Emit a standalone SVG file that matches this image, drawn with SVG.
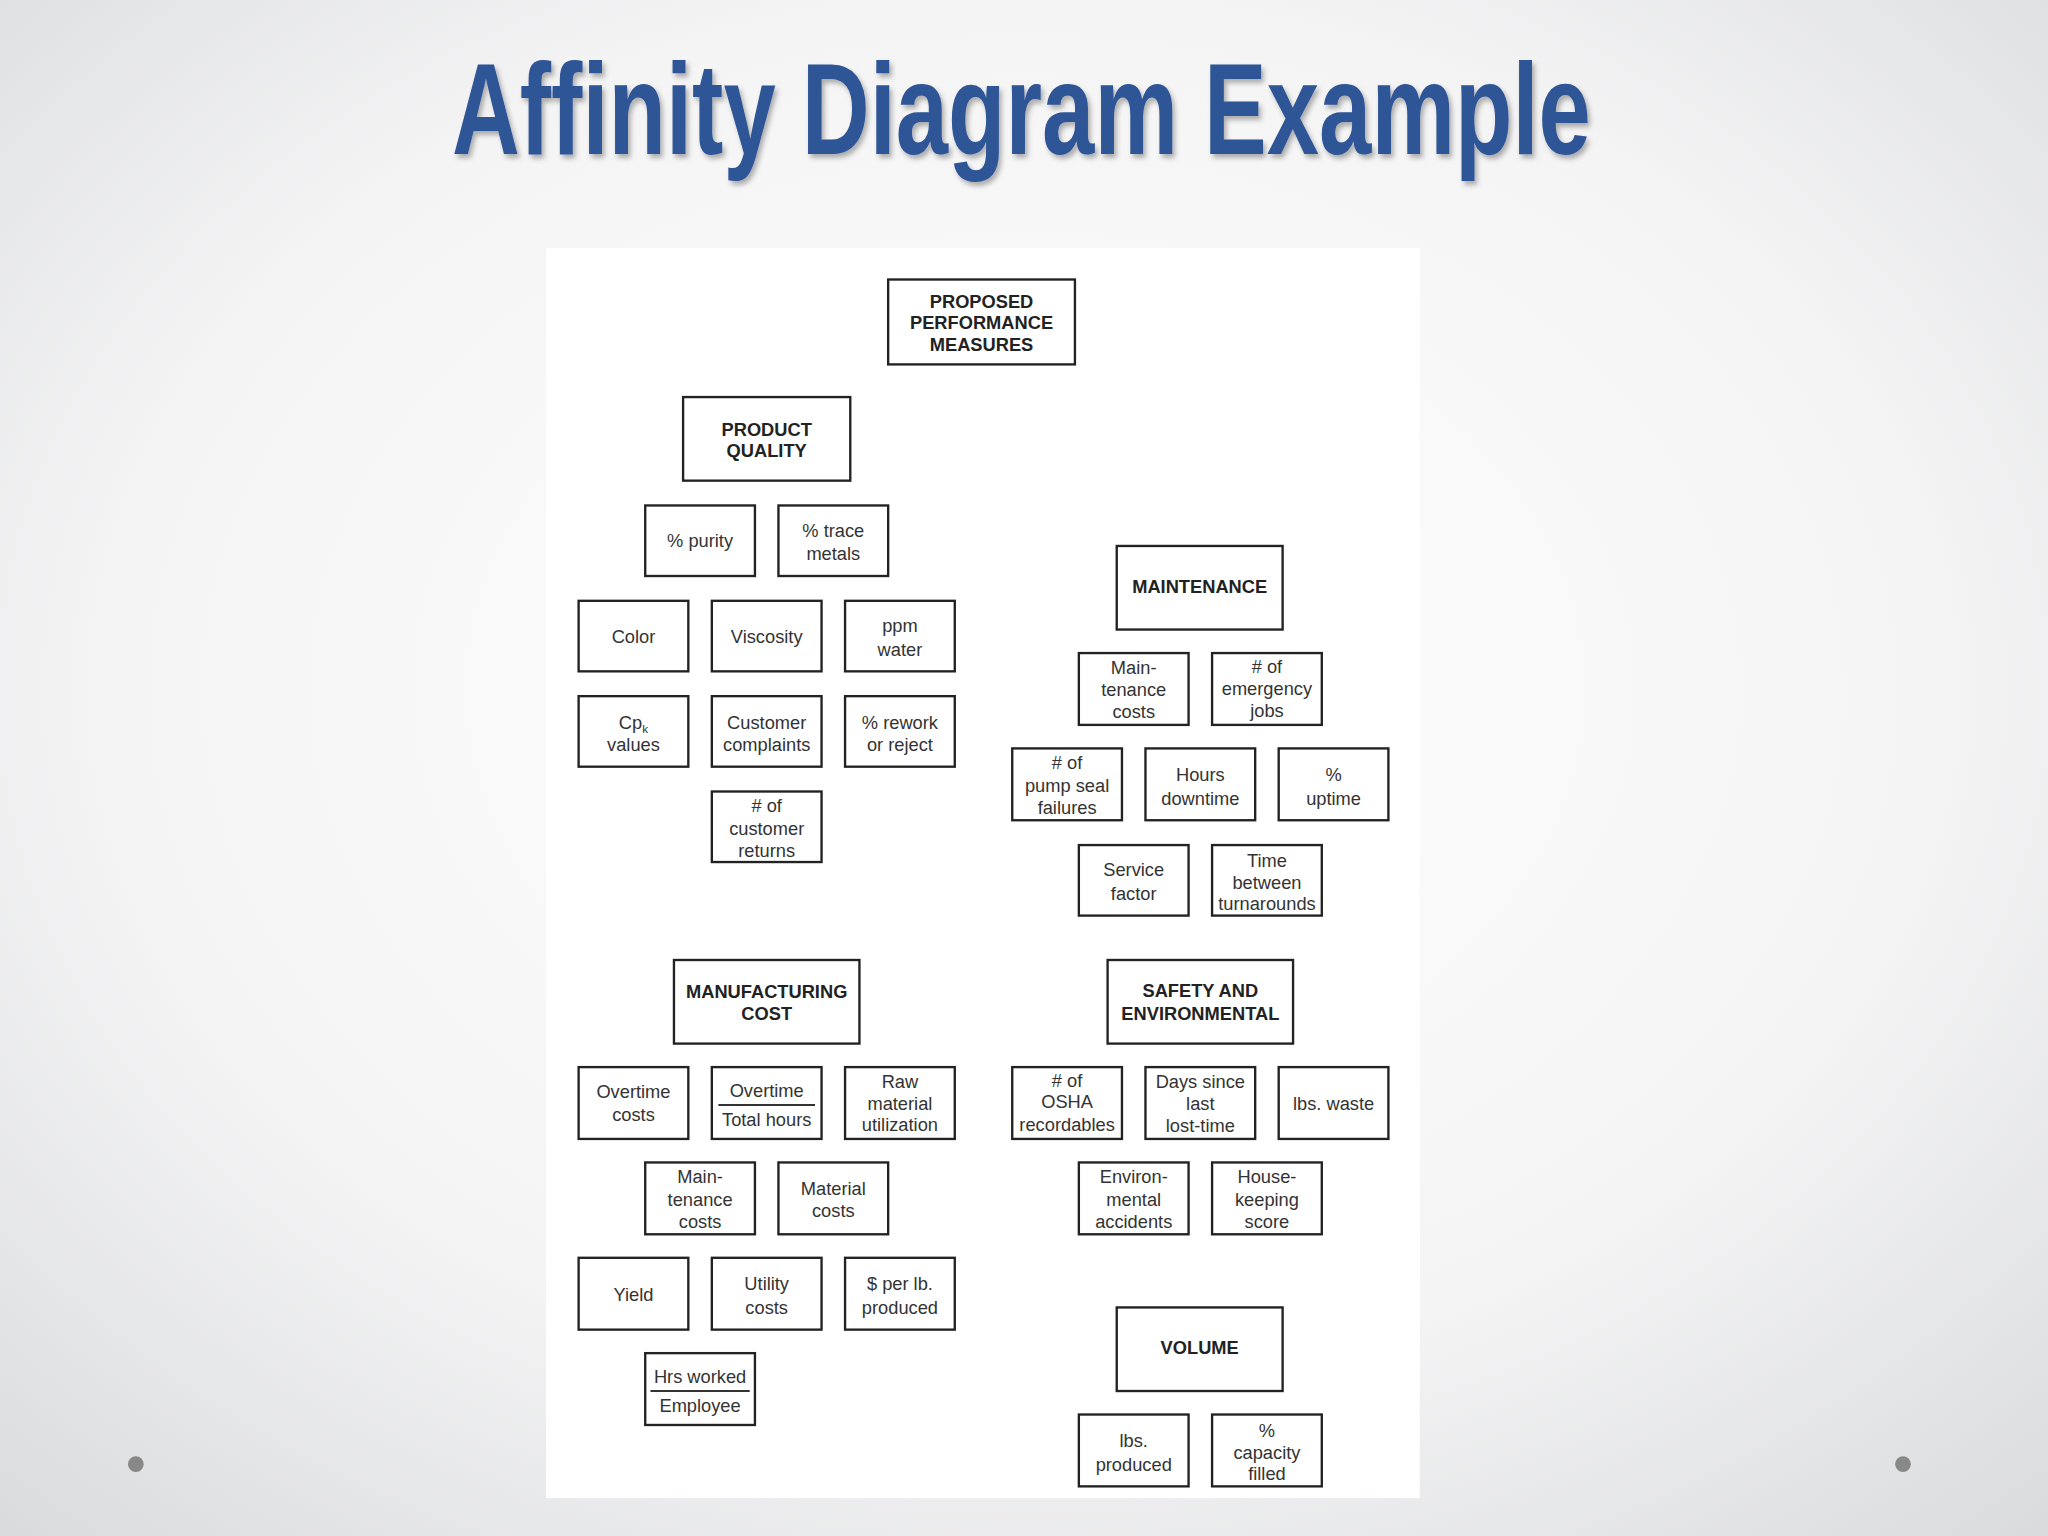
<svg xmlns="http://www.w3.org/2000/svg" width="2048" height="1536" viewBox="0 0 2048 1536">
<defs>
<radialGradient id="bg" cx="50%" cy="45%" r="75%">
<stop offset="0" stop-color="#ffffff"/><stop offset="0.6" stop-color="#f4f4f5"/><stop offset="1" stop-color="#d9dadc"/>
</radialGradient>
<filter id="sh"><feDropShadow dx="2" dy="3" stdDeviation="2" flood-color="#000" flood-opacity="0.3"/></filter>
</defs>
<style>
rect.b{fill:#fff;stroke:#222;stroke-width:1.8}
text{font-family:"Liberation Sans Narrow","Liberation Sans",Arial,sans-serif;fill:#333;text-anchor:middle;font-size:14px}
text.h{font-weight:bold;fill:#222}
</style>
<rect width="2048" height="1536" fill="url(#bg)"/>
<g transform="scale(1.30612)">
<text x="782" y="118" filter="url(#sh)" style="font-family:'Liberation Sans Narrow','Liberation Sans',sans-serif;font-weight:bold;font-size:100px;fill:#2f5496" textLength="872" lengthAdjust="spacingAndGlyphs">Affinity  Diagram  Example</text>
<rect x="418" y="190" width="669" height="957" fill="#fff"/>
<circle cx="104" cy="1121" r="6" fill="#888"/>
<circle cx="1457" cy="1121" r="6" fill="#888"/>
<g id="connectors"/>
<g id="proposed"><rect class="b" x="680" y="214" width="143" height="65"/><text class="h" x="751.5" y="236">PROPOSED</text><text class="h" x="751.5" y="252">PERFORMANCE</text><text class="h" x="751.5" y="269">MEASURES</text></g>
<g id="quality"><rect class="b" x="523" y="304" width="128" height="64"/><text class="h" x="587" y="334">PRODUCT</text><text class="h" x="587" y="350">QUALITY</text></g>
<g id="purity"><rect class="b" x="494" y="387" width="84" height="54"/><text x="536" y="419">% purity</text></g>
<g id="trace"><rect class="b" x="596" y="387" width="84" height="54"/><text x="638" y="411">% trace</text><text x="638" y="429">metals</text></g>
<g id="color"><rect class="b" x="443" y="460" width="84" height="54"/><text x="485" y="492">Color</text></g>
<g id="visc"><rect class="b" x="545" y="460" width="84" height="54"/><text x="587" y="492">Viscosity</text></g>
<g id="ppm"><rect class="b" x="647" y="460" width="84" height="54"/><text x="689" y="484">ppm</text><text x="689" y="502">water</text></g>
<g id="cpk"><rect class="b" x="443" y="533" width="84" height="54"/><text x="485" y="558">Cp<tspan font-size="9" dy="3">k</tspan></text><text x="485" y="575">values</text></g>
<g id="compl"><rect class="b" x="545" y="533" width="84" height="54"/><text x="587" y="558">Customer</text><text x="587" y="575">complaints</text></g>
<g id="rework"><rect class="b" x="647" y="533" width="84" height="54"/><text x="689" y="558">% rework</text><text x="689" y="575">or reject</text></g>
<g id="returns"><rect class="b" x="545" y="606" width="84" height="54"/><text x="587" y="622">#  of</text><text x="587" y="639">customer</text><text x="587" y="656">returns</text></g>
<g id="maint"><rect class="b" x="855" y="418" width="127" height="64"/><text class="h" x="918.5" y="454">MAINTENANCE</text></g>
<g id="mcost"><rect class="b" x="826" y="500" width="84" height="55"/><text x="868" y="516">Main-</text><text x="868" y="533">tenance</text><text x="868" y="550">costs</text></g>
<g id="emerg"><rect class="b" x="928" y="500" width="84" height="55"/><text x="970" y="515">#  of</text><text x="970" y="532">emergency</text><text x="970" y="549">jobs</text></g>
<g id="pump"><rect class="b" x="775" y="573" width="84" height="55"/><text x="817" y="589">#  of</text><text x="817" y="606">pump seal</text><text x="817" y="623">failures</text></g>
<g id="hours"><rect class="b" x="877" y="573" width="84" height="55"/><text x="919" y="598">Hours</text><text x="919" y="616">downtime</text></g>
<g id="uptime"><rect class="b" x="979" y="573" width="84" height="55"/><text x="1021" y="598">%</text><text x="1021" y="616">uptime</text></g>
<g id="service"><rect class="b" x="826" y="647" width="84" height="54"/><text x="868" y="671">Service</text><text x="868" y="689">factor</text></g>
<g id="turn"><rect class="b" x="928" y="647" width="84" height="54"/><text x="970" y="664">Time</text><text x="970" y="681">between</text><text x="970" y="697">turnarounds</text></g>
<g id="manuf"><rect class="b" x="516" y="735" width="142" height="64"/><text class="h" x="587" y="764">MANUFACTURING</text><text class="h" x="587" y="781">COST</text></g>
<g id="ot"><rect class="b" x="443" y="817" width="84" height="55"/><text x="485" y="841">Overtime</text><text x="485" y="858">costs</text></g>
<g id="otr"><rect class="b" x="545" y="817" width="84" height="55"/><text x="587" y="840">Overtime</text><line x1="550" y1="846" x2="624" y2="846" stroke="#333" stroke-width="1.5"/><text x="587" y="862">Total hours</text></g>
<g id="raw"><rect class="b" x="647" y="817" width="84" height="55"/><text x="689" y="833">Raw</text><text x="689" y="850">material</text><text x="689" y="866">utilization</text></g>
<g id="mtc"><rect class="b" x="494" y="890" width="84" height="55"/><text x="536" y="906">Main-</text><text x="536" y="923">tenance</text><text x="536" y="940">costs</text></g>
<g id="mat"><rect class="b" x="596" y="890" width="84" height="55"/><text x="638" y="915">Material</text><text x="638" y="932">costs</text></g>
<g id="yield"><rect class="b" x="443" y="963" width="84" height="55"/><text x="485" y="996">Yield</text></g>
<g id="util"><rect class="b" x="545" y="963" width="84" height="55"/><text x="587" y="988">Utility</text><text x="587" y="1006">costs</text></g>
<g id="perlb"><rect class="b" x="647" y="963" width="84" height="55"/><text x="689" y="988">$ per lb.</text><text x="689" y="1006">produced</text></g>
<g id="hrs"><rect class="b" x="494" y="1036" width="84" height="55"/><text x="536" y="1059">Hrs worked</text><line x1="498" y1="1065" x2="574" y2="1065" stroke="#333" stroke-width="1.5"/><text x="536" y="1081">Employee</text></g>
<g id="safety"><rect class="b" x="848" y="735" width="142" height="64"/><text class="h" x="919" y="763">SAFETY AND</text><text class="h" x="919" y="781">ENVIRONMENTAL</text></g>
<g id="osha"><rect class="b" x="775" y="817" width="84" height="55"/><text x="817" y="832">#  of</text><text x="817" y="848">OSHA</text><text x="817" y="866">recordables</text></g>
<g id="days"><rect class="b" x="877" y="817" width="84" height="55"/><text x="919" y="833">Days since</text><text x="919" y="850">last</text><text x="919" y="867">lost-time</text></g>
<g id="waste"><rect class="b" x="979" y="817" width="84" height="55"/><text x="1021" y="850">lbs. waste</text></g>
<g id="envacc"><rect class="b" x="826" y="890" width="84" height="55"/><text x="868" y="906">Environ-</text><text x="868" y="923">mental</text><text x="868" y="940">accidents</text></g>
<g id="house"><rect class="b" x="928" y="890" width="84" height="55"/><text x="970" y="906">House-</text><text x="970" y="923">keeping</text><text x="970" y="940">score</text></g>
<g id="volume"><rect class="b" x="855" y="1001" width="127" height="64"/><text class="h" x="918.5" y="1037">VOLUME</text></g>
<g id="lbsprod"><rect class="b" x="826" y="1083" width="84" height="55"/><text x="868" y="1108">lbs.</text><text x="868" y="1126">produced</text></g>
<g id="cap"><rect class="b" x="928" y="1083" width="84" height="55"/><text x="970" y="1100">%</text><text x="970" y="1117">capacity</text><text x="970" y="1133">filled</text></g>
</g>
</svg>
